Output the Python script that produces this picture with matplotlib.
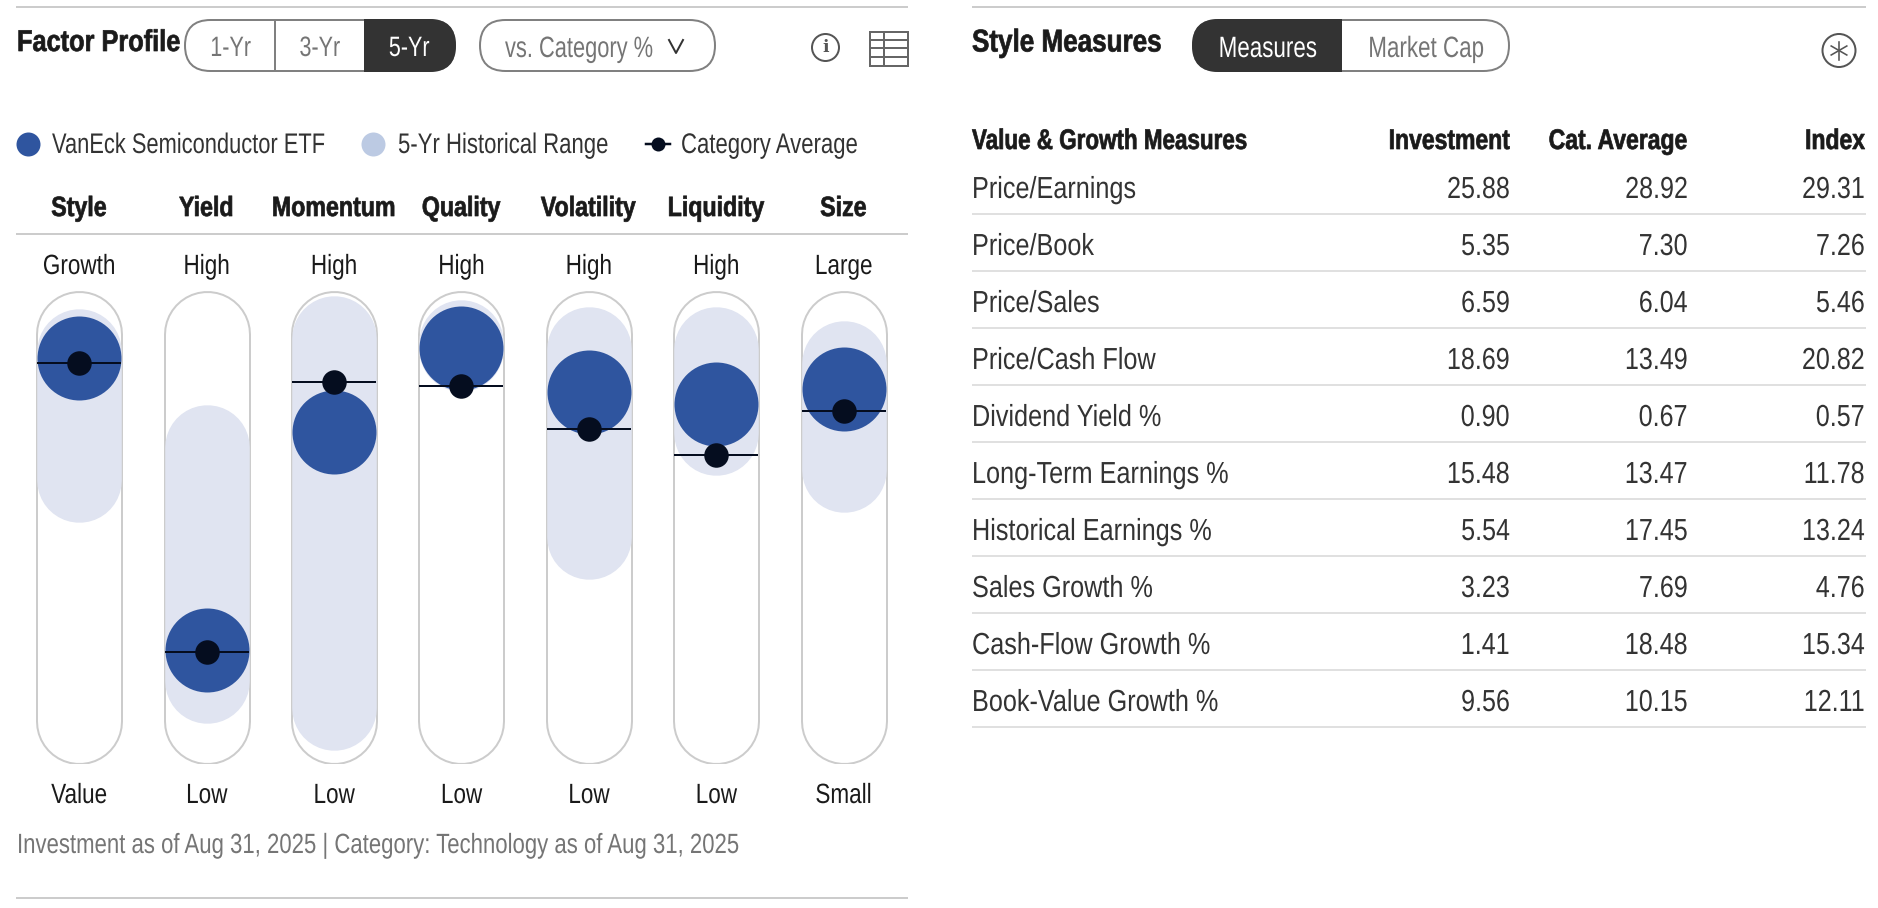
import numpy as np
import matplotlib
matplotlib.use("Agg")
import matplotlib.pyplot as plt
from matplotlib.patches import FancyBboxPatch, Rectangle, Circle
from matplotlib.patheffects import AbstractPathEffect
from matplotlib.transforms import Affine2D

plt.rcParams['font.family'] = ['Liberation Sans', 'DejaVu Sans']

# Factor profile data (score 0-100)
factors = ['Style', 'Yield', 'Momentum', 'Quality', 'Volatility', 'Liquidity', 'Size']
top_labels = ['Growth', 'High', 'High', 'High', 'High', 'High', 'Large']
bottom_labels = ['Value', 'Low', 'Low', 'Low', 'Low', 'Low', 'Small']
investment = [93.7, 18.3, 74.6, 96.5, 84.9, 81.9, 85.8]
range_high = [95.7, 70.8, 99.0, 97.9, 96.2, 96.0, 92.6]
range_low = [62.3, 10.2, 3.4, 96.0, 47.4, 74.3, 64.8]
category_avg = [92.6, 17.7, 87.6, 86.5, 75.4, 68.7, 80.0]

# Style measures table
measures = ['Price/Earnings', 'Price/Book', 'Price/Sales', 'Price/Cash Flow', 'Dividend Yield %',
            'Long-Term Earnings %', 'Historical Earnings %', 'Sales Growth %', 'Cash-Flow Growth %',
            'Book-Value Growth %']
inv_values = ['25.88', '5.35', '6.59', '18.69', '0.90', '15.48', '5.54', '3.23', '1.41', '9.56']
cat_values = ['28.92', '7.30', '6.04', '13.49', '0.67', '13.47', '17.45', '7.69', '18.48', '10.15']
idx_values = ['29.31', '7.26', '5.46', '20.82', '0.57', '11.78', '13.24', '4.76', '15.34', '12.11']

W, H = 1878, 908
BLUE = '#2F559F'
RANGE = '#E0E4F1'
DOT = '#050D1F'
RULE = '#CCCCCC'
GREY = '#757575'
DARK = '#333333'
PX = 0.72  # pixels to points at dpi 100
STEP = 127.4  # pixels between factor columns
TALL = 1.05  # the original face is taller and narrower than Liberation Sans


class Squeeze(AbstractPathEffect):
    # no condensed font is installed, so narrow the glyphs while drawing
    def __init__(self, sx, ha, stroke=0):
        super().__init__()
        self.sx = sx
        self.ha = ha
        self.stroke = stroke

    def draw_path(self, renderer, gc, tpath, affine, rgbFace=None):
        ext = tpath.get_extents()
        pivot = {'left': 0, 'center': (ext.x0 + ext.x1) / 2, 'right': ext.x1}[self.ha]
        squeeze = Affine2D().translate(-pivot, 0).scale(self.sx, 1).translate(pivot, 0)
        gc0 = renderer.new_gc()
        gc0.copy_properties(gc)
        if self.stroke:
            gc0.set_linewidth(self.stroke)
            gc0.set_foreground(rgbFace)
        renderer.draw_path(gc0, tpath, squeeze + affine, rgbFace)
        gc0.restore()


fig = plt.figure(figsize=(W / 100, H / 100), dpi=100, facecolor='white')

# background axes in pixel coordinates for all the page furniture
bg = fig.add_axes([0, 0, 1, 1])
bg.set_xlim(0, W)
bg.set_ylim(H, 0)
bg.axis('off')


def label(x, y, s, size=27, color='#1A1A1A', ha='left', weight='normal', sx=0.83):
    t = bg.text(x, y - 1, s, fontsize=size * TALL * PX, color=color, ha=ha, va='center_baseline', fontweight=weight)
    t.set_path_effects([Squeeze(sx / TALL, ha, stroke=0.5 if weight == 'bold' else 0)])
    return t


def rule(x0, x1, y, color=RULE, lw=2):
    bg.plot([x0, x1], [y, y], color=color, lw=lw * PX, solid_capstyle='butt')


def pill(x0, x1, y0=20, y1=71):
    p = FancyBboxPatch((x0, y0), x1 - x0, y1 - y0, boxstyle='round,pad=0,rounding_size=25.5',
                       fc='white', ec='#808080', lw=2 * PX)
    bg.add_patch(p)
    return p


def active(p, x0, x1, y0=19, y1=72):
    r = FancyBboxPatch((p.get_x(), p.get_y()), p.get_width(), p.get_height(),
                       boxstyle='round,pad=0,rounding_size=25.5', fc=DARK, ec=DARK, lw=2 * PX)
    bg.add_patch(r)
    r.set_clip_path(Rectangle((x0, y0), x1 - x0, y1 - y0, transform=bg.transData))


# left panel header
rule(16, 908, 6.5)
label(17, 41, 'Factor Profile', size=28.6, weight='bold', sx=0.886)
p = pill(185, 455)
active(p, 363.5, 456)
bg.plot([274.7, 274.7], [20, 71], color='#808080', lw=2 * PX)
for x, s, c in zip([230.4, 319.7, 409], ['1-Yr', '3-Yr', '5-Yr'], [GREY, GREY, 'white']):
    label(x, 47, s, size=26.7, color=c, ha='center', sx=0.807)
pill(480, 715)
label(505, 47, 'vs. Category %', size=28, color=GREY, sx=0.78)
bg.plot([669, 676, 683], [40, 53, 40], color=DARK, lw=2 * PX)

# info icon
bg.add_patch(Circle((825.5, 47.5), 13.5, fc='none', ec='#555555', lw=2 * PX))
bg.text(825.5, 48, 'i', fontsize=17 * PX, family='DejaVu Serif', color='#555555', ha='center', va='center',
        fontweight='bold')

# table icon
for yy in [32, 40, 48, 56.7, 65.7]:
    bg.plot([870, 908], [yy, yy], color='#666666', lw=2 * PX)
for xx in [870, 884, 908]:
    bg.plot([xx, xx], [32, 65.7], color='#666666', lw=2 * PX)

# legend
bg.plot([28], [144], 'o', ms=24 * PX, color=BLUE, mew=0)
label(52, 144, 'VanEck Semiconductor ETF', color='#333333', sx=0.81)
bg.plot([373], [144], 'o', ms=24 * PX, color='#BCCAE3', mew=0)
label(398, 144, '5-Yr Historical Range', color='#333333', sx=0.82)
bg.plot([645.5, 669.5], [144, 144], color=DOT, lw=2.5 * PX)
bg.plot([657.5], [144], 'o', ms=14 * PX, color=DOT, mew=0)
label(681, 144, 'Category Average', color='#333333', sx=0.82)

# column headers
col_x = [79.2 + STEP * i for i in range(len(factors))]
for x, f, t, b in zip(col_x, factors, top_labels, bottom_labels):
    label(x, 207, f, size=26.5, ha='center', weight='bold', sx=0.875)
    label(x, 265, t, size=26.5, ha='center', sx=0.85)
    label(x, 794, b, size=26.5, ha='center', sx=0.85)
rule(16, 908, 234)
label(17, 844, 'Investment as of Aug 31, 2025 | Category: Technology as of Aug 31, 2025', size=26.5, color=GREY,
      sx=0.836)
rule(16, 908, 898)

# factor chart: x is the factor index, y the score
ax = fig.add_axes([(79.2 - STEP / 2) / W, 1 - 764 / H, 7 * STEP / W, (764 - 290.8) / H])
ax.set_xlim(-0.5, 6.5)
ax.set_ylim(-11.17, 111.17)
ax.axis('off')
ax.patch.set_alpha(0)
for i in range(len(factors)):
    ax.plot([i, i], [0, 100], color=RULE, lw=87 * PX, solid_capstyle='round', zorder=1)
    ax.plot([i, i], [0, 100], color='white', lw=83 * PX, solid_capstyle='round', zorder=1.1)
    ax.plot([i, i], [range_low[i], range_high[i]], color=RANGE, lw=84.5 * PX, solid_capstyle='round', zorder=2)
    ax.plot([i], [investment[i]], 'o', ms=84 * PX, color=BLUE, mew=0, zorder=3)
    ax.plot([i - 0.33, i + 0.33], [category_avg[i]] * 2, color=DOT, lw=2 * PX, solid_capstyle='butt', zorder=4)
    ax.plot([i], [category_avg[i]], 'o', ms=24.5 * PX, color=DOT, mew=0, zorder=5)

# right panel header
RIGHT = 1866
rule(972, RIGHT, 6.5)
label(972, 41, 'Style Measures', size=30, weight='bold', sx=0.868)
p = pill(1193, 1509)
active(p, 1192, 1342)
label(1267.5, 47, 'Measures', size=28, color='white', ha='center', sx=0.8)
label(1426, 47, 'Market Cap', size=28, color=GREY, ha='center', sx=0.8)

# asterisk icon
bg.add_patch(Circle((1839, 50.5), 16.5, fc='none', ec='#555555', lw=2 * PX))
for ang in np.deg2rad([30, 90, 150]):
    dx, dy = 9 * np.cos(ang), 9 * np.sin(ang)
    bg.plot([1839 - dx, 1839 + dx], [50.5 - dy, 50.5 + dy], color='#555555', lw=1.6 * PX)

# table
col_right = [1510, 1688, RIGHT - 1]
label(972, 140, 'Value & Growth Measures', size=27, weight='bold', sx=0.83)
for x, s in zip(col_right, ['Investment', 'Cat. Average', 'Index']):
    label(x, 140, s, size=27, ha='right', weight='bold', sx=0.85)
for i, m in enumerate(measures):
    y = 188 + 57 * i
    label(972, y, m, size=29, color='#333333', sx=0.87)
    for x, v in zip(col_right, [inv_values[i], cat_values[i], idx_values[i]]):
        label(x, y, v, size=29, color='#333333', ha='right', sx=0.865)
    rule(972, RIGHT, 214 + 57 * i, color='#E0E0E0')

fig.savefig('out.png', dpi=100, facecolor='white')
